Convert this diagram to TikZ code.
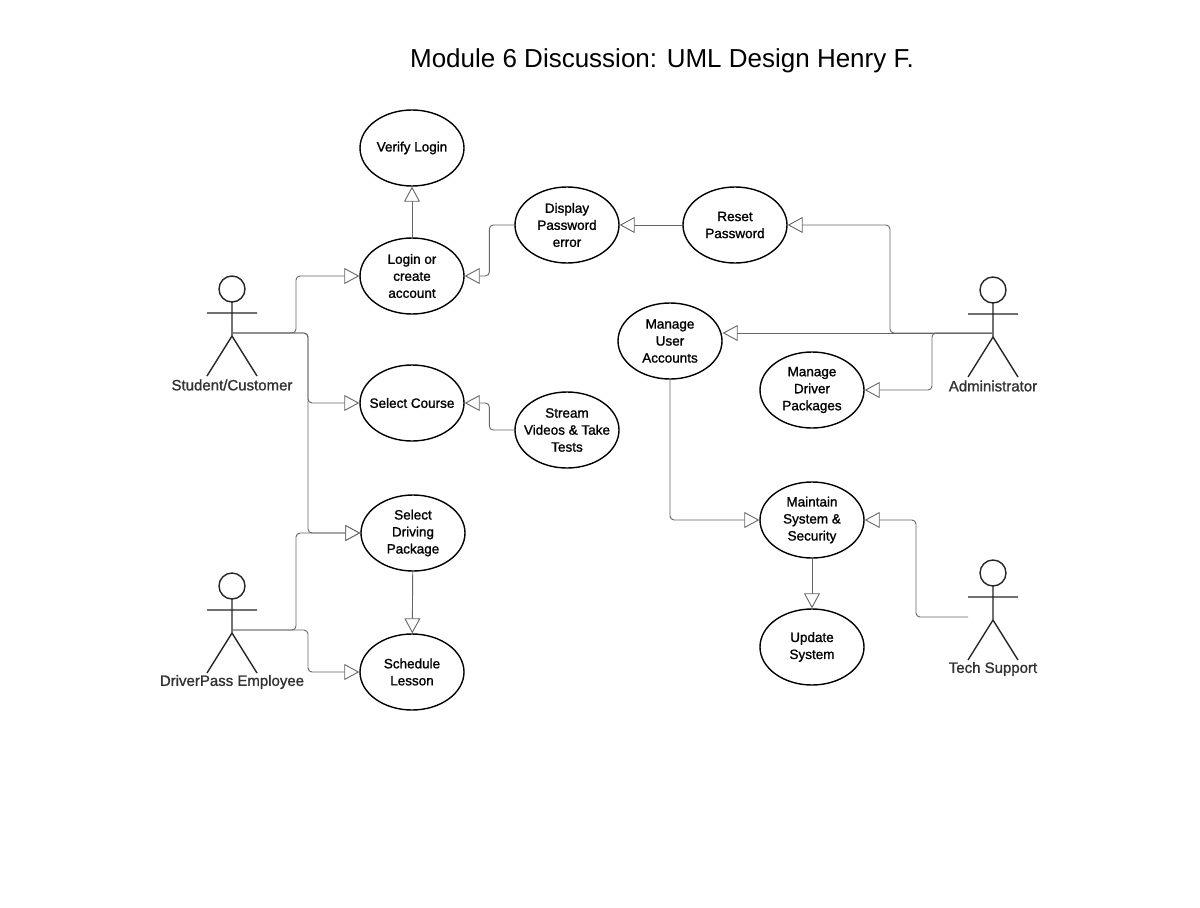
\documentclass[tikz,border=0pt]{standalone}
\usepackage{fontspec}
\setmainfont{Liberation Sans}
\newfontfamily\heavysans[FakeBold=1.2]{Liberation Sans}
\usetikzlibrary{shapes.geometric,arrows.meta}
\begin{document}
\begin{tikzpicture}[x=1pt,y=-1pt,
 usecase/.style={ellipse,draw=black,line width=1.4pt,minimum width=104pt,minimum height=76pt,inner xsep=-12pt,inner ysep=0pt,align=center,font=\heavysans\fontsize{13.5}{17}\selectfont},
 conn/.style={draw=black!60,line width=0.9pt,rounded corners=4pt,-{Triangle[open,length=15pt,width=16pt,fill=white]}},
 actorlabel/.style={font=\heavysans\fontsize{15}{18}\selectfont,text=black!80,inner sep=0pt},
 stickman/.pic={
   \draw[line width=1.4pt,draw=black!85] (0,0) circle[radius=13pt]
     (0,13) -- (0,47) (-25,24) -- (25,24)
     (-25,87) -- (0,47) -- (25,87);
 }
]
\useasboundingbox[fill=white] (0,0) rectangle (1200,908);

\node[anchor=base,font=\fontsize{26}{30}\selectfont] (title) at (662,67) {Module 6 Discussion: UML Design Henry F.};

% use cases
\node[usecase] (verify) at (412,148) {Verify Login};
\node[usecase] (login) at (412,276) {Login or\\create\\account};
\node[usecase] (display) at (567,225) {Display\\Password\\error};
\node[usecase] (course) at (412,403) {Select Course};
\node[usecase] (stream) at (567,430) {Stream\\Videos \& Take\\Tests};
\node[usecase] (reset) at (735,225) {Reset\\Password};
\node[usecase] (mua) at (670,341) {Manage\\User\\Accounts};
\node[usecase] (mdp) at (812,390) {Manage\\Driver\\Packages};
\node[usecase] (sdp) at (413,533) {Select\\Driving\\Package};
\node[usecase] (sched) at (412,672) {Schedule\\Lesson};
\node[usecase] (maint) at (812,520) {Maintain\\System \&\\Security};
\node[usecase] (update) at (812,647) {Update\\System};

% actors
\pic at (232,289) {stickman};
\pic at (232,586) {stickman};
\pic at (993,290) {stickman};
\pic at (993,573) {stickman};
\node[actorlabel] (student) at (232,385) {Student/Customer};
\node[actorlabel] (employee) at (232,682) {DriverPass Employee};
\node[actorlabel] (admin) at (993,386) {Administrator};
\node[actorlabel] (tech) at (993,669) {Tech Support};
\coordinate (shand) at (232,333);
\coordinate (ehand) at (232,630);
\coordinate (ahand) at (993,333);
\coordinate (thand) at (968,617);

% connectors
\draw[conn] (shand) -- ++(64,0) |- (login);
\draw[conn] (shand) -- ++(76,0) |- (course);
\draw[conn] (shand) -- ++(76,0) |- (sdp);
\draw[conn] (login) -- (verify);
\draw[conn] (display.west) -- ++(-25,0) |- (login);
\draw[conn] (reset) -- (display);
\draw[conn] (stream.west) -- ++(-25,0) |- (course);
\draw[conn] (ahand) -- ++(-103,0) |- (reset);
\draw[conn] (ahand) -- (ahand -| mua.east);
\draw[conn] (ahand) -- ++(-61,0) |- (mdp);
\draw[conn] (mua) |- (maint);
\draw[conn] (thand) -- ++(-52,0) |- (maint);
\draw[conn] (maint) -- (update);
\draw[conn] (sdp) -- (sched);
\draw[conn] (ehand) -- ++(64,0) |- (sdp);
\draw[conn] (ehand) -- ++(76,0) |- (sched);
\end{tikzpicture}
\end{document}
